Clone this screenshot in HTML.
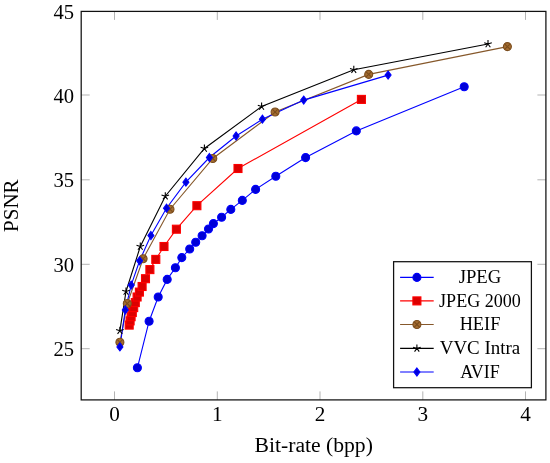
<!DOCTYPE html>
<html><head><meta charset="utf-8"><title>PSNR vs Bit-rate</title><style>html,body{margin:0;padding:0;background:#fff}svg{display:block}</style></head><body>
<svg width="550" height="463" viewBox="0 0 550 463" font-family="'Liberation Serif', serif" font-size="19.5" fill="#000">
<rect width="550" height="463" fill="#fff"/>
<path d="M114.5 399.9V391.4M114.5 11.4V19.9M217.3 399.9V391.4M217.3 11.4V19.9M320.0 399.9V391.4M320.0 11.4V19.9M422.8 399.9V391.4M422.8 11.4V19.9M525.5 399.9V391.4M525.5 11.4V19.9M81.2 95.0H89.7M545.9 95.0H537.4M81.2 179.8H89.7M545.9 179.8H537.4M81.2 264.3H89.7M545.9 264.3H537.4M81.2 348.7H89.7M545.9 348.7H537.4" stroke="#808080" stroke-width="0.6" fill="none"/>
<rect x="81.2" y="11.4" width="464.7" height="388.5" fill="none" stroke="#111" stroke-width="1.25"/>
<text x="114.5" y="420.8" text-anchor="middle" font-size="21.2">0</text>
<text x="217.3" y="420.8" text-anchor="middle" font-size="21.2">1</text>
<text x="320.0" y="420.8" text-anchor="middle" font-size="21.2">2</text>
<text x="422.8" y="420.8" text-anchor="middle" font-size="21.2">3</text>
<text x="525.5" y="420.8" text-anchor="middle" font-size="21.2">4</text>
<text x="74.0" y="19.0" text-anchor="end" font-size="21.4" textLength="20.6" lengthAdjust="spacingAndGlyphs">45</text>
<text x="74.0" y="102.6" text-anchor="end" font-size="21.4" textLength="20.6" lengthAdjust="spacingAndGlyphs">40</text>
<text x="74.0" y="187.4" text-anchor="end" font-size="21.4" textLength="20.6" lengthAdjust="spacingAndGlyphs">35</text>
<text x="74.0" y="271.9" text-anchor="end" font-size="21.4" textLength="20.6" lengthAdjust="spacingAndGlyphs">30</text>
<text x="74.0" y="356.3" text-anchor="end" font-size="21.4" textLength="20.6" lengthAdjust="spacingAndGlyphs">25</text>
<text x="313.7" y="451.8" font-size="20" text-anchor="middle" textLength="118.4" lengthAdjust="spacingAndGlyphs">Bit-rate (bpp)</text>
<text transform="translate(18.1 205.7) rotate(-90)" font-size="20.6" text-anchor="middle" textLength="52.5" lengthAdjust="spacingAndGlyphs">PSNR</text>
<g>
<polyline fill="none" stroke="#0000ff" stroke-width="1.10" points="137.4,367.8 149.1,321.2 158.2,297.0 167.2,279.4 175.4,267.7 181.8,257.6 189.7,249.0 195.7,242.3 202.1,235.8 208.5,229.0 213.4,223.6 221.6,217.2 230.8,209.4 242.3,200.4 255.6,189.4 275.8,176.2 305.6,157.6 356.3,130.9 464.2,86.7"/>
<polyline fill="none" stroke="#ff0000" stroke-width="1.10" points="129.2,325.1 130.1,320.9 131.1,316.7 132.3,312.5 133.7,307.6 135.3,302.6 137.1,297.0 139.4,292.1 142.1,286.5 145.5,278.7 149.9,269.6 155.8,259.4 164.0,246.5 176.4,229.2 196.9,205.7 238.0,168.5 361.4,99.4"/>
<polyline fill="none" stroke="#86582b" stroke-width="1.10" points="119.9,342.3 127.3,303.5 143.1,258.7 170.0,209.2 212.8,158.5 275.1,112.0 368.7,74.4 507.4,46.6"/>
<polyline fill="none" stroke="#000" stroke-width="1.10" points="119.9,330.7 126.0,291.5 140.3,246.5 165.3,196.2 204.4,148.5 261.6,106.5 353.8,69.7 488.0,44.0"/>
<polyline fill="none" stroke="#0000ff" stroke-width="1.10" points="119.9,346.9 125.3,309.9 131.2,285.1 139.6,260.8 150.9,235.5 166.5,208.2 185.9,182.2 209.4,157.5 236.1,136.0 262.4,119.2 303.7,100.1 388.1,75.1"/>
<circle cx="137.4" cy="367.8" r="4.00" fill="#0000d8" stroke="#0000ff" stroke-width="1.10"/>
<circle cx="149.1" cy="321.2" r="4.00" fill="#0000d8" stroke="#0000ff" stroke-width="1.10"/>
<circle cx="158.2" cy="297.0" r="4.00" fill="#0000d8" stroke="#0000ff" stroke-width="1.10"/>
<circle cx="167.2" cy="279.4" r="4.00" fill="#0000d8" stroke="#0000ff" stroke-width="1.10"/>
<circle cx="175.4" cy="267.7" r="4.00" fill="#0000d8" stroke="#0000ff" stroke-width="1.10"/>
<circle cx="181.8" cy="257.6" r="4.00" fill="#0000d8" stroke="#0000ff" stroke-width="1.10"/>
<circle cx="189.7" cy="249.0" r="4.00" fill="#0000d8" stroke="#0000ff" stroke-width="1.10"/>
<circle cx="195.7" cy="242.3" r="4.00" fill="#0000d8" stroke="#0000ff" stroke-width="1.10"/>
<circle cx="202.1" cy="235.8" r="4.00" fill="#0000d8" stroke="#0000ff" stroke-width="1.10"/>
<circle cx="208.5" cy="229.0" r="4.00" fill="#0000d8" stroke="#0000ff" stroke-width="1.10"/>
<circle cx="213.4" cy="223.6" r="4.00" fill="#0000d8" stroke="#0000ff" stroke-width="1.10"/>
<circle cx="221.6" cy="217.2" r="4.00" fill="#0000d8" stroke="#0000ff" stroke-width="1.10"/>
<circle cx="230.8" cy="209.4" r="4.00" fill="#0000d8" stroke="#0000ff" stroke-width="1.10"/>
<circle cx="242.3" cy="200.4" r="4.00" fill="#0000d8" stroke="#0000ff" stroke-width="1.10"/>
<circle cx="255.6" cy="189.4" r="4.00" fill="#0000d8" stroke="#0000ff" stroke-width="1.10"/>
<circle cx="275.8" cy="176.2" r="4.00" fill="#0000d8" stroke="#0000ff" stroke-width="1.10"/>
<circle cx="305.6" cy="157.6" r="4.00" fill="#0000d8" stroke="#0000ff" stroke-width="1.10"/>
<circle cx="356.3" cy="130.9" r="4.00" fill="#0000d8" stroke="#0000ff" stroke-width="1.10"/>
<circle cx="464.2" cy="86.7" r="4.00" fill="#0000d8" stroke="#0000ff" stroke-width="1.10"/>
<rect x="125.2" y="321.1" width="8.00" height="8.00" fill="#dc0000" stroke="#ff0000" stroke-width="1.10"/>
<rect x="126.1" y="316.9" width="8.00" height="8.00" fill="#dc0000" stroke="#ff0000" stroke-width="1.10"/>
<rect x="127.1" y="312.7" width="8.00" height="8.00" fill="#dc0000" stroke="#ff0000" stroke-width="1.10"/>
<rect x="128.3" y="308.5" width="8.00" height="8.00" fill="#dc0000" stroke="#ff0000" stroke-width="1.10"/>
<rect x="129.7" y="303.6" width="8.00" height="8.00" fill="#dc0000" stroke="#ff0000" stroke-width="1.10"/>
<rect x="131.3" y="298.6" width="8.00" height="8.00" fill="#dc0000" stroke="#ff0000" stroke-width="1.10"/>
<rect x="133.1" y="293.0" width="8.00" height="8.00" fill="#dc0000" stroke="#ff0000" stroke-width="1.10"/>
<rect x="135.4" y="288.1" width="8.00" height="8.00" fill="#dc0000" stroke="#ff0000" stroke-width="1.10"/>
<rect x="138.1" y="282.5" width="8.00" height="8.00" fill="#dc0000" stroke="#ff0000" stroke-width="1.10"/>
<rect x="141.5" y="274.7" width="8.00" height="8.00" fill="#dc0000" stroke="#ff0000" stroke-width="1.10"/>
<rect x="145.9" y="265.6" width="8.00" height="8.00" fill="#dc0000" stroke="#ff0000" stroke-width="1.10"/>
<rect x="151.8" y="255.4" width="8.00" height="8.00" fill="#dc0000" stroke="#ff0000" stroke-width="1.10"/>
<rect x="160.0" y="242.5" width="8.00" height="8.00" fill="#dc0000" stroke="#ff0000" stroke-width="1.10"/>
<rect x="172.4" y="225.2" width="8.00" height="8.00" fill="#dc0000" stroke="#ff0000" stroke-width="1.10"/>
<rect x="192.9" y="201.7" width="8.00" height="8.00" fill="#dc0000" stroke="#ff0000" stroke-width="1.10"/>
<rect x="234.0" y="164.5" width="8.00" height="8.00" fill="#dc0000" stroke="#ff0000" stroke-width="1.10"/>
<rect x="357.4" y="95.4" width="8.00" height="8.00" fill="#dc0000" stroke="#ff0000" stroke-width="1.10"/>
<circle cx="119.9" cy="342.3" r="4.00" fill="#a36c31" stroke="#7a4c1c" stroke-width="1.10"/><path d="M117.07 339.47L122.73 345.13M117.07 345.13L122.73 339.47" stroke="#7a4c1c" stroke-width="1.10" fill="none"/>
<circle cx="127.3" cy="303.5" r="4.00" fill="#a36c31" stroke="#7a4c1c" stroke-width="1.10"/><path d="M124.47 300.67L130.13 306.33M124.47 306.33L130.13 300.67" stroke="#7a4c1c" stroke-width="1.10" fill="none"/>
<circle cx="143.1" cy="258.7" r="4.00" fill="#a36c31" stroke="#7a4c1c" stroke-width="1.10"/><path d="M140.27 255.87L145.93 261.53M140.27 261.53L145.93 255.87" stroke="#7a4c1c" stroke-width="1.10" fill="none"/>
<circle cx="170.0" cy="209.2" r="4.00" fill="#a36c31" stroke="#7a4c1c" stroke-width="1.10"/><path d="M167.17 206.37L172.83 212.03M167.17 212.03L172.83 206.37" stroke="#7a4c1c" stroke-width="1.10" fill="none"/>
<circle cx="212.8" cy="158.5" r="4.00" fill="#a36c31" stroke="#7a4c1c" stroke-width="1.10"/><path d="M209.97 155.67L215.63 161.33M209.97 161.33L215.63 155.67" stroke="#7a4c1c" stroke-width="1.10" fill="none"/>
<circle cx="275.1" cy="112.0" r="4.00" fill="#a36c31" stroke="#7a4c1c" stroke-width="1.10"/><path d="M272.27 109.17L277.93 114.83M272.27 114.83L277.93 109.17" stroke="#7a4c1c" stroke-width="1.10" fill="none"/>
<circle cx="368.7" cy="74.4" r="4.00" fill="#a36c31" stroke="#7a4c1c" stroke-width="1.10"/><path d="M365.87 71.57L371.53 77.23M365.87 77.23L371.53 71.57" stroke="#7a4c1c" stroke-width="1.10" fill="none"/>
<circle cx="507.4" cy="46.6" r="4.00" fill="#a36c31" stroke="#7a4c1c" stroke-width="1.10"/><path d="M504.57 43.77L510.23 49.43M504.57 49.43L510.23 43.77" stroke="#7a4c1c" stroke-width="1.10" fill="none"/>
<path d="M119.90 330.70L119.90 326.70M119.90 330.70L116.10 329.46M119.90 330.70L117.55 333.94M119.90 330.70L122.25 333.94M119.90 330.70L123.70 329.46" stroke="#000" stroke-width="1.10" fill="none"/>
<path d="M126.00 291.50L126.00 287.50M126.00 291.50L122.20 290.26M126.00 291.50L123.65 294.74M126.00 291.50L128.35 294.74M126.00 291.50L129.80 290.26" stroke="#000" stroke-width="1.10" fill="none"/>
<path d="M140.30 246.50L140.30 242.50M140.30 246.50L136.50 245.26M140.30 246.50L137.95 249.74M140.30 246.50L142.65 249.74M140.30 246.50L144.10 245.26" stroke="#000" stroke-width="1.10" fill="none"/>
<path d="M165.30 196.20L165.30 192.20M165.30 196.20L161.50 194.96M165.30 196.20L162.95 199.44M165.30 196.20L167.65 199.44M165.30 196.20L169.10 194.96" stroke="#000" stroke-width="1.10" fill="none"/>
<path d="M204.40 148.50L204.40 144.50M204.40 148.50L200.60 147.26M204.40 148.50L202.05 151.74M204.40 148.50L206.75 151.74M204.40 148.50L208.20 147.26" stroke="#000" stroke-width="1.10" fill="none"/>
<path d="M261.60 106.50L261.60 102.50M261.60 106.50L257.80 105.26M261.60 106.50L259.25 109.74M261.60 106.50L263.95 109.74M261.60 106.50L265.40 105.26" stroke="#000" stroke-width="1.10" fill="none"/>
<path d="M353.80 69.70L353.80 65.70M353.80 69.70L350.00 68.46M353.80 69.70L351.45 72.94M353.80 69.70L356.15 72.94M353.80 69.70L357.60 68.46" stroke="#000" stroke-width="1.10" fill="none"/>
<path d="M488.00 44.00L488.00 40.00M488.00 44.00L484.20 42.76M488.00 44.00L485.65 47.24M488.00 44.00L490.35 47.24M488.00 44.00L491.80 42.76" stroke="#000" stroke-width="1.10" fill="none"/>
<path d="M119.90 342.90L122.90 346.90L119.90 350.90L116.90 346.90Z" fill="#0000d8" stroke="#0000ff" stroke-width="1.10"/>
<path d="M125.30 305.90L128.30 309.90L125.30 313.90L122.30 309.90Z" fill="#0000d8" stroke="#0000ff" stroke-width="1.10"/>
<path d="M131.20 281.10L134.20 285.10L131.20 289.10L128.20 285.10Z" fill="#0000d8" stroke="#0000ff" stroke-width="1.10"/>
<path d="M139.60 256.80L142.60 260.80L139.60 264.80L136.60 260.80Z" fill="#0000d8" stroke="#0000ff" stroke-width="1.10"/>
<path d="M150.90 231.50L153.90 235.50L150.90 239.50L147.90 235.50Z" fill="#0000d8" stroke="#0000ff" stroke-width="1.10"/>
<path d="M166.50 204.20L169.50 208.20L166.50 212.20L163.50 208.20Z" fill="#0000d8" stroke="#0000ff" stroke-width="1.10"/>
<path d="M185.90 178.20L188.90 182.20L185.90 186.20L182.90 182.20Z" fill="#0000d8" stroke="#0000ff" stroke-width="1.10"/>
<path d="M209.40 153.50L212.40 157.50L209.40 161.50L206.40 157.50Z" fill="#0000d8" stroke="#0000ff" stroke-width="1.10"/>
<path d="M236.10 132.00L239.10 136.00L236.10 140.00L233.10 136.00Z" fill="#0000d8" stroke="#0000ff" stroke-width="1.10"/>
<path d="M262.40 115.20L265.40 119.20L262.40 123.20L259.40 119.20Z" fill="#0000d8" stroke="#0000ff" stroke-width="1.10"/>
<path d="M303.70 96.10L306.70 100.10L303.70 104.10L300.70 100.10Z" fill="#0000d8" stroke="#0000ff" stroke-width="1.10"/>
<path d="M388.10 71.10L391.10 75.10L388.10 79.10L385.10 75.10Z" fill="#0000d8" stroke="#0000ff" stroke-width="1.10"/>
</g>
<rect x="393.6" y="261.7" width="137.8" height="126.0" fill="#fff" stroke="#111" stroke-width="1.25"/>
<path d="M400.1 277.4H433.7" stroke="#0000ff" stroke-width="1.10"/>
<circle cx="416.9" cy="277.4" r="4.00" fill="#0000d8" stroke="#0000ff" stroke-width="1.10"/>
<text x="480.0" y="283.0" text-anchor="middle" textLength="42.6" lengthAdjust="spacingAndGlyphs">JPEG</text>
<path d="M400.1 300.9H433.7" stroke="#ff0000" stroke-width="1.10"/>
<rect x="412.9" y="296.9" width="8.00" height="8.00" fill="#dc0000" stroke="#ff0000" stroke-width="1.10"/>
<text x="480.0" y="306.5" text-anchor="middle" textLength="81.8" lengthAdjust="spacingAndGlyphs">JPEG 2000</text>
<path d="M400.1 324.5H433.7" stroke="#86582b" stroke-width="1.10"/>
<circle cx="416.9" cy="324.5" r="4.00" fill="#a36c31" stroke="#7a4c1c" stroke-width="1.10"/><path d="M414.07 321.67L419.73 327.33M414.07 327.33L419.73 321.67" stroke="#7a4c1c" stroke-width="1.10" fill="none"/>
<text x="480.0" y="330.1" text-anchor="middle" textLength="40.7" lengthAdjust="spacingAndGlyphs">HEIF</text>
<path d="M400.1 348.4H433.7" stroke="#000" stroke-width="1.10"/>
<path d="M416.90 348.40L416.90 344.40M416.90 348.40L413.10 347.16M416.90 348.40L414.55 351.64M416.90 348.40L419.25 351.64M416.90 348.40L420.70 347.16" stroke="#000" stroke-width="1.10" fill="none"/>
<text x="480.0" y="354.0" text-anchor="middle" textLength="80.5" lengthAdjust="spacingAndGlyphs">VVC Intra</text>
<path d="M400.1 372.0H433.7" stroke="#0000ff" stroke-width="1.10"/>
<path d="M416.90 368.00L419.90 372.00L416.90 376.00L413.90 372.00Z" fill="#0000d8" stroke="#0000ff" stroke-width="1.10"/>
<text x="480.0" y="377.6" text-anchor="middle" textLength="39.7" lengthAdjust="spacingAndGlyphs">AVIF</text>
</svg>
</body></html>
